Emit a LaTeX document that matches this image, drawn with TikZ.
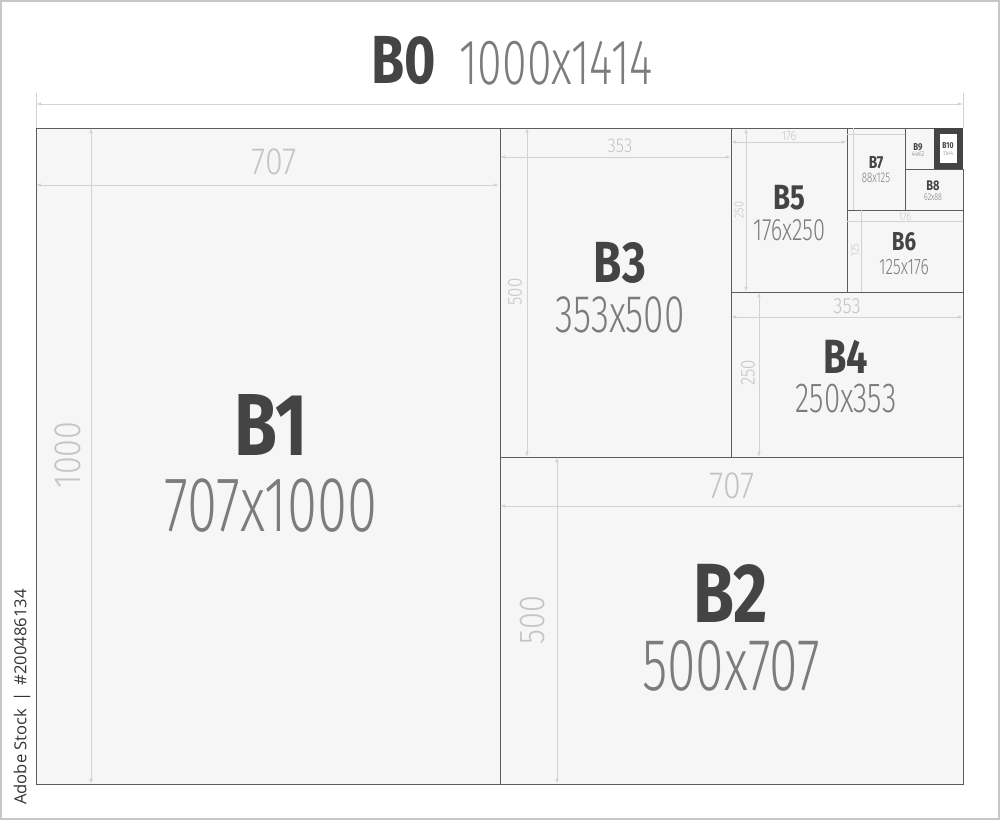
\documentclass[tikz,border=0pt]{standalone}
\usepackage{fontspec}
\usetikzlibrary{arrows.meta}
\newfontfamily\nameFont[FakeStretch=0.79]{Fira Sans}
\newfontfamily\sizeFont[FakeStretch=0.7]{Fira Sans Light}
\newfontfamily\dimFont[FakeStretch=0.85]{Fira Sans Light}
\newfontfamily\markFont{Open Sans}
\definecolor{paperFill}{HTML}{F6F6F6}
\definecolor{paperEdge}{HTML}{5C5C5C}
\definecolor{dimLine}{HTML}{D2D2D2}
\definecolor{dimText}{HTML}{C4C4C4}
\definecolor{nameText}{HTML}{444444}
\definecolor{sizeText}{HTML}{7C7C7C}
\newcommand{\fs}[1]{\fontsize{#1pt}{#1pt}\selectfont}

\begin{document}
\begin{tikzpicture}[x=0.5pt, y=-0.5pt,
    sheet/.style={draw=paperEdge, fill=paperFill, line width=0.5pt},
    dim/.style={draw=dimLine, line width=0.45pt, {Latex[length=2.6pt, width=1.8pt]}-{Latex[length=2.6pt, width=1.8pt]}},
    extline/.style={draw=dimLine, line width=0.45pt},
    dimlabel/.style={font=\dimFont, text=dimText, inner sep=0},
    sheetname/.style={font=\nameFont\bfseries, text=nameText, inner sep=0},
    sheetsize/.style={font=\sizeFont, text=sizeText, inner sep=0}]
  \useasboundingbox (0,0) rectangle (1000,820);
  \draw[draw=black!22, line width=0.6pt] (1,1) rectangle (999,819);

  % title
  \node[sheetname] (b0-name) at (404,61) {\fs{34}B0};
  \node[sheetsize] (b0-size) at (556,63) {\fs{32}1000x1414};

  % sheets
  \draw[sheet] (36,128) rectangle (500,784);  % B1
  \draw[sheet] (500,457) rectangle (963,784); % B2
  \draw[sheet] (500,128) rectangle (731,457); % B3
  \draw[sheet] (731,292) rectangle (963,457); % B4
  \draw[sheet] (731,128) rectangle (847,292); % B5
  \draw[sheet] (847,210) rectangle (963,292); % B6
  \draw[sheet] (847,128) rectangle (905,210); % B7
  \draw[sheet] (905,169) rectangle (963,210); % B8
  \draw[sheet] (905,128) rectangle (934,169); % B9
  \draw[draw=nameText, fill=white, line width=2.6pt] (937,131) rectangle (960,166); % B10

  % dimension lines
  \coordinate (b0-ext-l) at (36,93);
  \coordinate (b0-ext-r) at (963,93);
  \coordinate (b0-top-l) at (36,128);
  \coordinate (b0-top-r) at (963,128);
  \draw[extline] (b0-ext-l) -- (b0-top-l);
  \draw[extline] (b0-ext-r) -- (b0-top-r);
  \foreach \n/\xa/\ya/\xb/\yb in {b0w/36/104/963/104,
                                  b1w/36/185/499/185, b1h/91/128/91/784,
                                  b2w/500/506/963/506, b2h/557/457/557/784,
                                  b3w/500/157/731/157, b3h/527/128/527/457,
                                  b4w/731/317/963/317, b4h/759/292/759/457,
                                  b5w/731/142/847/142, b5h/746/128/746/292} {
    \coordinate (\n-a) at (\xa,\ya);
    \coordinate (\n-b) at (\xb,\yb);
    \draw[dim] (\n-a) -- (\n-b);
  }
  \foreach \n/\xa/\ya/\xb/\yb in {b6w/847/221/963/221, b6h/861/210/861/292,
                                  b7w/847/134/905/134, b7h/853/128/853/210} {
    \coordinate (\n-a) at (\xa,\ya);
    \coordinate (\n-b) at (\xb,\yb);
    \draw[extline, line width=0.3pt] (\n-a) -- (\n-b);
  }

  % dimension labels
  \node[dimlabel] (b1w-label) at (274,162) {\fs{19}707};
  \node[dimlabel, rotate=90] (b1h-label) at (68,455) {\fs{19}1000};
  \node[dimlabel] (b2w-label) at (732,486) {\fs{19}707};
  \node[dimlabel, rotate=90] (b2h-label) at (533,620) {\fs{18}500};
  \node[dimlabel] (b3w-label) at (620,146) {\fs{10}353};
  \node[dimlabel, rotate=90] (b3h-label) at (515,292) {\fs{10}500};
  \node[dimlabel] (b4w-label) at (847,306) {\fs{11}353};
  \node[dimlabel, rotate=90] (b4h-label) at (748,373) {\fs{10}250};
  \node[dimlabel] (b5w-label) at (789,136) {\fs{6.5}176};
  \node[dimlabel, rotate=90] (b5h-label) at (739,210) {\fs{6.5}250};
  \node[dimlabel] (b6w-label) at (905,217) {\fs{5.5}176};
  \node[dimlabel, rotate=90] (b6h-label) at (855,250) {\fs{5.5}125};

  % sheet names and sizes
  \foreach \n/\x/\y/\s/\t/\u/\v in {B1/271/425/44/707x1000/39/506,
                                     B2/731/593/42/500x707/37/666,
                                     B3/620/263/29/353x500/26.5/315,
                                     B4/846/357/24/250x353/21/399,
                                     B5/789/198/17.5/176x250/15.5/230,
                                     B6/904/242/13/125x176/11.2/267,
                                     B7/876/163/8.7/88x125/7/178,
                                     B8/933/186/7/62x88/5/197,
                                     B9/918/147/5/44x62/3.6/154,
                                     B10/948/146/4.3/31x44/3/153} {
    \node[sheetname] (\n-name) at (\x,\y) {\fs{\s}\n};
    \node[sheetsize] (\n-size) at (\x,\v) {\fs{\u}\t};
  }

  % stock mark
  \node[font=\markFont, text=black!80, rotate=90, inner sep=0] (stock-mark) at (22,697) {\fs{8.3}Adobe Stock \,|\, \#200486134};
\end{tikzpicture}
\end{document}
